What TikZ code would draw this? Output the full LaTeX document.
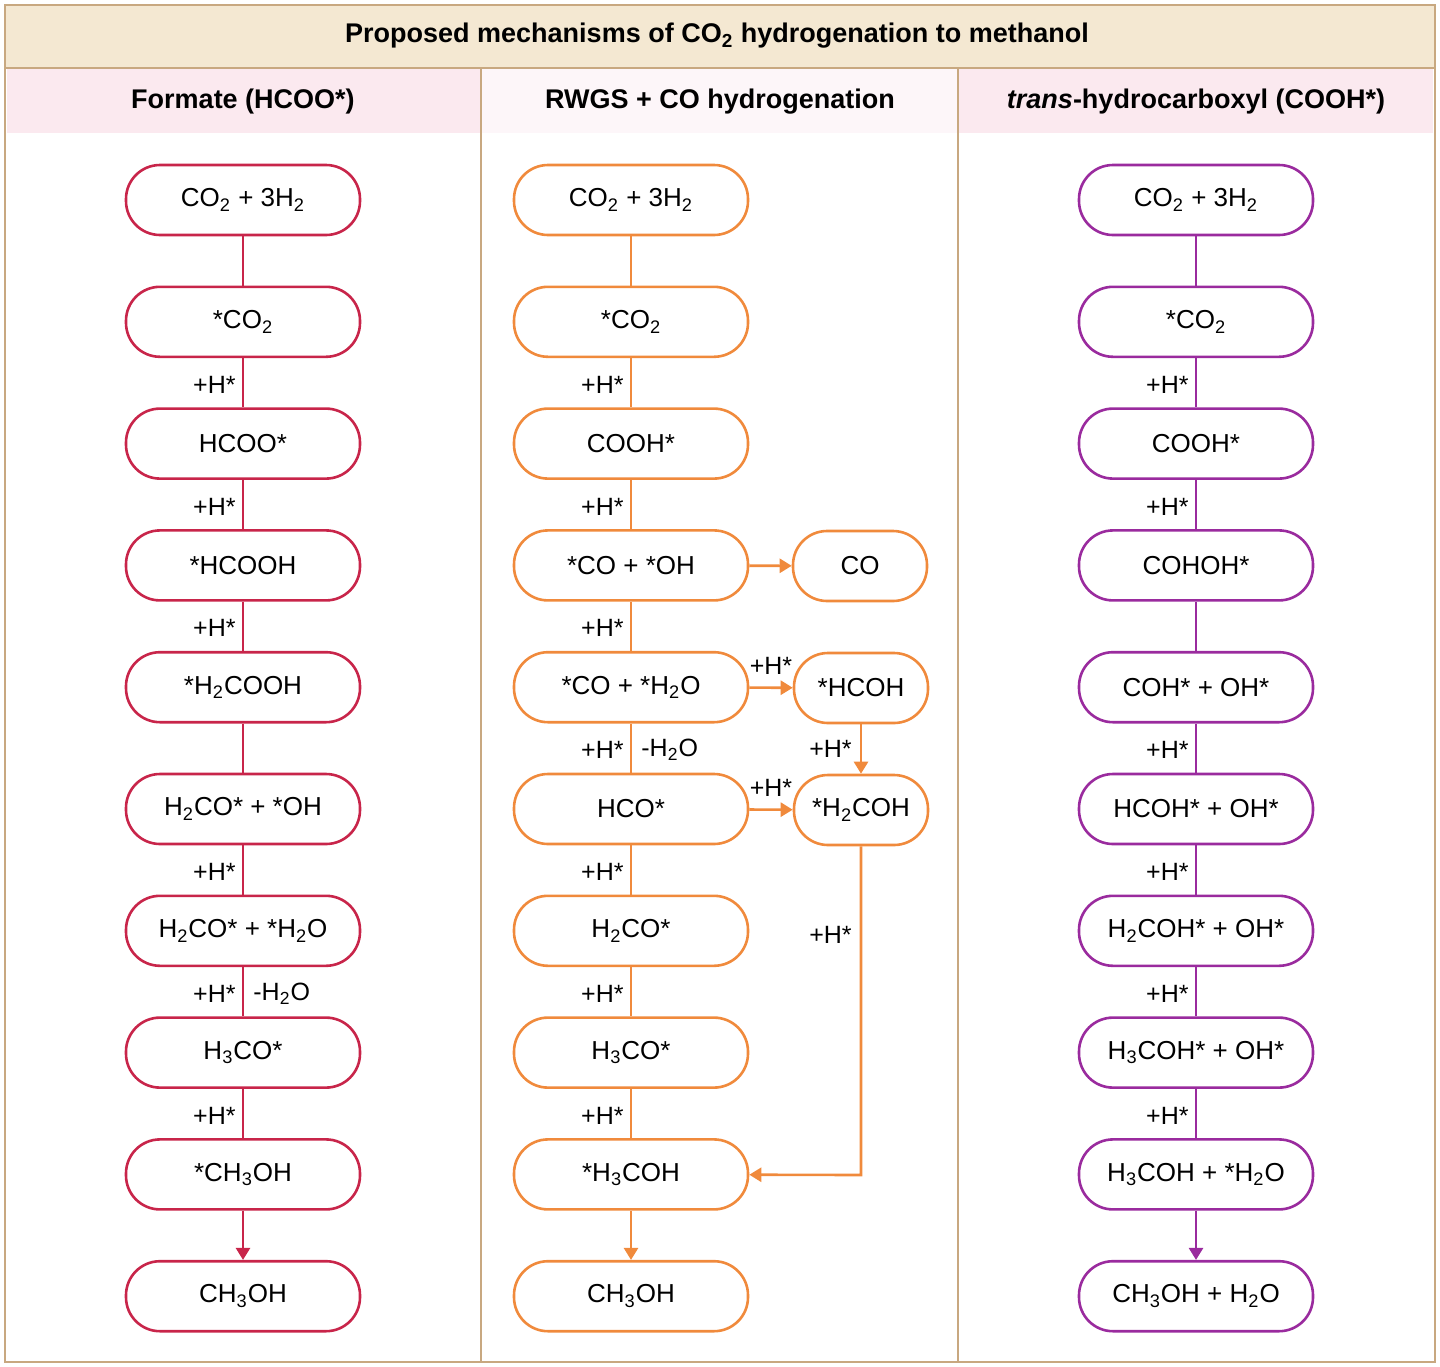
\documentclass[tikz,border=0pt]{standalone}
\usepackage{fontspec}
\setmainfont{Liberation Sans}
\usetikzlibrary{arrows.meta,calc}
\definecolor{fred}{HTML}{C8254A}
\definecolor{forange}{HTML}{F08A3C}
\definecolor{fpurple}{HTML}{9A2B9E}
\definecolor{tband}{HTML}{F4E8D2}
\definecolor{pband}{HTML}{FBE9EF}
\definecolor{frame}{HTML}{C8A880}
\newcommand{\ix}[1]{\textsubscript{#1}}
\tikzset{
  step/.style={draw=#1,line width=1.3pt,rounded corners=17pt,minimum width=117pt,
    minimum height=35pt,inner sep=0pt,font=\fontsize{13}{15}\selectfont,fill=white},
  side/.style={step=#1,minimum width=67pt},
  lab/.style={font=\fontsize{12.5}{14}\selectfont,inner sep=1pt},
  link/.style={draw=#1,line width=1.3pt},
  go/.style={link=#1,-{Triangle[length=6pt,width=7pt]}}
}
\begin{document}
\begin{tikzpicture}[x=0.5pt,y=-0.5pt]
\useasboundingbox (0,0) rectangle (1440,1366);
% bands and frame
\fill[tband] (5,5) rectangle (1435,68);
\fill[pband] (7,68) rectangle (481,133);
\fill[white!60!pband] (481,68) rectangle (958,133);
\fill[pband] (958,68) rectangle (1433,133);
\draw[frame,line width=1.3pt] (5,5) rectangle (1435,1362);
\draw[frame,line width=1.3pt] (5,68) -- (1435,68);
\draw[frame,line width=1.3pt] (481,68) -- (481,1362);
\draw[frame,line width=1.3pt] (958,68) -- (958,1362);
\node[font=\bfseries\fontsize{13.5}{15}\selectfont] (title) at (717,36) {Proposed mechanisms of CO\ix{2} hydrogenation to methanol};
\node[font=\bfseries\fontsize{13.5}{15}\selectfont] (h1) at (243,102) {Formate (HCOO*)};
\node[font=\bfseries\fontsize{13.5}{15}\selectfont] (h2) at (720,102) {RWGS + CO hydrogenation};
\node[font=\bfseries\fontsize{13.5}{15}\selectfont] (h3) at (1196,102) {\textit{trans}-hydrocarboxyl (COOH*)};
% formate column
\foreach \n/\t [count=\i] in {a1/CO\ix{2} + 3H\ix{2}, a2/*CO\ix{2}, a3/HCOO*, a4/*HCOOH, a5/*H\ix{2}COOH,
  a6/H\ix{2}CO* + *OH, a7/H\ix{2}CO* + *H\ix{2}O, a8/H\ix{3}CO*, a9/*CH\ix{3}OH, a10/CH\ix{3}OH}
  \node[step=fred] (\n) at (243,{200+121.8*(\i-1)}) {\t};
\foreach \p/\q in {a1/a2,a2/a3,a3/a4,a4/a5,a5/a6,a6/a7,a7/a8,a8/a9}
  \draw[link=fred] (\p) -- (\q);
\draw[go=fred] (a9) -- (a10);
\foreach \p/\q in {a2/a3,a3/a4,a4/a5,a6/a7,a7/a8,a8/a9}
  \node[lab,anchor=east] at ($(\p)!0.5!(\q)+(-5,2)$) {+H*};
\node[lab,anchor=west] at ($(a7)!0.5!(a8)+(8,2)$) {-H\ix{2}O};
% RWGS column
\foreach \n/\t [count=\i] in {b1/CO\ix{2} + 3H\ix{2}, b2/*CO\ix{2}, b3/COOH*, b4/*CO + *OH, b5/*CO + *H\ix{2}O,
  b6/HCO*, b7/H\ix{2}CO*, b8/H\ix{3}CO*, b9/*H\ix{3}COH, b10/CH\ix{3}OH}
  \node[step=forange] (\n) at (631,{200+121.8*(\i-1)}) {\t};
\foreach \p/\q in {b1/b2,b2/b3,b3/b4,b4/b5,b5/b6,b6/b7,b7/b8,b8/b9}
  \draw[link=forange] (\p) -- (\q);
\draw[go=forange] (b9) -- (b10);
\foreach \p/\q in {b2/b3,b3/b4,b4/b5,b5/b6,b6/b7,b7/b8,b8/b9}
  \node[lab,anchor=east] at ($(\p)!0.5!(\q)+(-5,2)$) {+H*};
\node[lab,anchor=west] at ($(b5)!0.5!(b6)+(8,2)$) {-H\ix{2}O};
\node[side=forange] (co) at (860,566) {CO};
\node[side=forange] (hcoh) at (861,688) {*HCOH};
\node[side=forange] (hhcoh) at (861,810) {*H\ix{2}COH};
\coordinate (turn) at (861,1175);
\draw[go=forange] (b4) -- (co);
\draw[go=forange] (b5) -- node[lab,above=5pt,pos=0.5] {+H*} (hcoh);
\draw[go=forange] (b6) -- node[lab,above=5pt,pos=0.5] {+H*} (hhcoh);
\draw[go=forange] (hcoh) -- node[lab,left=3pt] {+H*} (hhcoh);
\draw[go=forange] (hhcoh) -- node[lab,left=3pt,pos=0.27] {+H*} (turn) -- (b9);
% COOH column
\foreach \n/\t [count=\i] in {c1/CO\ix{2} + 3H\ix{2}, c2/*CO\ix{2}, c3/COOH*, c4/COHOH*, c5/COH* + OH*,
  c6/HCOH* + OH*, c7/H\ix{2}COH* + OH*, c8/H\ix{3}COH* + OH*, c9/H\ix{3}COH + *H\ix{2}O, c10/CH\ix{3}OH + H\ix{2}O}
  \node[step=fpurple] (\n) at (1196,{200+121.8*(\i-1)}) {\t};
\foreach \p/\q in {c1/c2,c2/c3,c3/c4,c4/c5,c5/c6,c6/c7,c7/c8,c8/c9}
  \draw[link=fpurple] (\p) -- (\q);
\draw[go=fpurple] (c9) -- (c10);
\foreach \p/\q in {c2/c3,c3/c4,c5/c6,c6/c7,c7/c8,c8/c9}
  \node[lab,anchor=east] at ($(\p)!0.5!(\q)+(-5,2)$) {+H*};
\end{tikzpicture}
\end{document}
